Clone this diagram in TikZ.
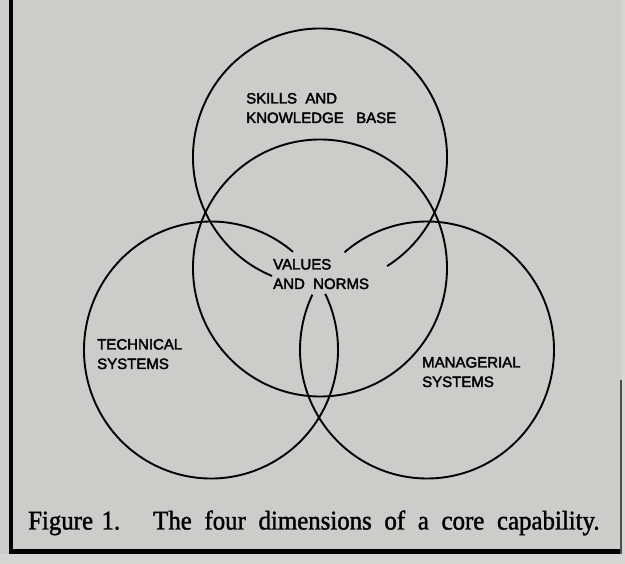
\documentclass[tikz,border=0pt]{standalone}
\usepackage{fontspec}
\setmainfont{Liberation Serif}
\newfontfamily\labelfont[FakeBold=2.5]{Liberation Sans}
\newfontfamily\capfont[FakeStretch=0.92,FakeBold=1.5]{Liberation Serif}
\definecolor{bg}{RGB}{204,204,202}
\definecolor{outer}{RGB}{214,214,212}
\begin{document}
\begin{tikzpicture}[x=1pt,y=-1pt,
  ring/.style={line width=1.9pt,black},
  lbl/.style={font=\labelfont\fontsize{15}{19.5}\selectfont, align=left, inner sep=0pt, anchor=base west},
  captext/.style={font=\capfont\fontsize{27}{30}\selectfont, inner sep=0pt, anchor=base west}]
\fill[bg] (0,0) rectangle (625,564);
\useasboundingbox (0,0) rectangle (625,564);
% frame
\fill[outer] (0,554) rectangle (625,564);
\fill[outer] (621,0) rectangle (625,564);
\fill[black] (9,0) rectangle (13,554);
\fill[black] (9,549) rectangle (621,554);
\draw[line width=1.5pt, black!70] (621,380) -- (621,554);
% central circle (values and norms)
\draw[ring] (320,268) ellipse [x radius=127, y radius=128.5];
% skills and knowledge base
\draw[ring] (320,157) ++(112.2:127 and 128.5) arc[start angle=112.2, end angle=418.1, x radius=127, y radius=128.5];
% technical systems
\draw[ring] (211,350) ++(334.1:127 and 128.5) arc[start angle=334.1, end angle=670.2, x radius=127, y radius=128.5];
% managerial systems
\draw[ring] (427,350) ++(229.5:127 and 128.5) arc[start angle=229.5, end angle=565.5, x radius=127, y radius=128.5];
% labels (anchored at the baseline of the last line)
\node[lbl] (sk) at (246,123) {SKILLS\ \ AND\\KNOWLEDGE\ \ \ BASE};
\node[lbl] (vn) at (273,289) {VALUES\\AND\ \ NORMS};
\node[lbl] (ts) at (97,369) {TECHNICAL\\SYSTEMS};
\node[lbl] (ms) at (422,387) {MANAGERIAL\\SYSTEMS};
\node[captext] (caption) at (28,529.5) {\spaceskip=12.7pt Figure\hspace{8.5pt}1.\hspace{33pt}The four dimensions of a core capability.};
\end{tikzpicture}
\end{document}
